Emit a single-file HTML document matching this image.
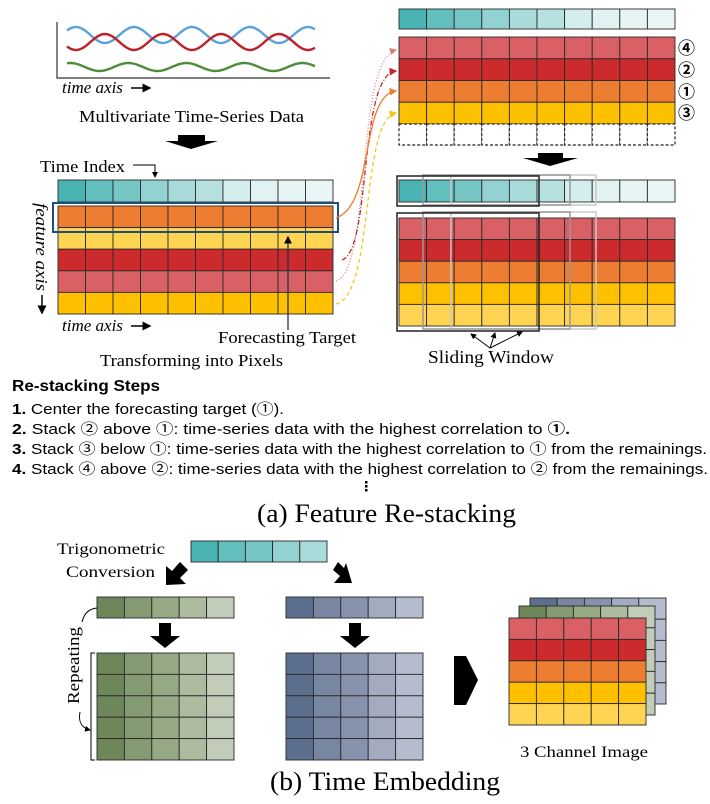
<!DOCTYPE html>
<html><head><meta charset="utf-8"><style>
html,body{margin:0;padding:0;background:#fff}
svg{display:block}
.serif{font-family:"Liberation Serif","Noto Serif CJK SC",serif}
.sans{font-family:"Liberation Sans","Noto Sans CJK KR",sans-serif}
</style></head><body>
<svg id="fig" width="710" height="804" viewBox="0 0 710 804" xmlns="http://www.w3.org/2000/svg">
<defs>
<marker id="ah" markerWidth="6" markerHeight="6" refX="5" refY="3" orient="auto"><path d="M0,0 L6,3 L0,6 z" fill="#000"/></marker>
<marker id="ahO" markerWidth="6" markerHeight="6" refX="5" refY="3" orient="auto"><path d="M0,0 L6,3 L0,6 z" fill="#ed7d31"/></marker>
<marker id="ahR" markerWidth="6" markerHeight="6" refX="5" refY="3" orient="auto"><path d="M0,0 L6,3 L0,6 z" fill="#c0282c"/></marker>
<marker id="ahP" markerWidth="6" markerHeight="6" refX="5" refY="3" orient="auto"><path d="M0,0 L6,3 L0,6 z" fill="#e07a7a"/></marker>
<marker id="ahY" markerWidth="6" markerHeight="6" refX="5" refY="3" orient="auto"><path d="M0,0 L6,3 L0,6 z" fill="#f5c518"/></marker>
</defs>

<!-- top time-series plot -->
<g>
<path d="M57,22 V78 H330" fill="none" stroke="#333" stroke-width="1.2"/>
<g id="waves"></g>
</g>
<text class="serif" x="62" y="93" font-size="17" font-style="italic">time axis</text>
<path d="M131,88 H150" stroke="#000" stroke-width="1.5" marker-end="url(#ah)"/>
<text class="serif" x="79" y="122" font-size="17" textLength="225" lengthAdjust="spacingAndGlyphs">Multivariate Time-Series Data</text>
<path d="M178,135 H205 V141 H218 L191,149 L165,141 H178 Z" fill="#000"/>

<text class="serif" x="40" y="172" font-size="17" textLength="85" lengthAdjust="spacingAndGlyphs">Time Index</text>
<path d="M133,165 H155 V177" fill="none" stroke="#000" stroke-width="1" marker-end="url(#ah)"/>

<g id="leftGrid"></g>
<rect x="53" y="203" width="285" height="29" fill="none" stroke="#1f4e79" stroke-width="2"/>
<text class="serif" font-size="17" font-style="italic" transform="translate(36,203) rotate(90)" textLength="88" lengthAdjust="spacingAndGlyphs">feature axis</text>
<path d="M42,295 V313" stroke="#000" stroke-width="1.5" marker-end="url(#ah)"/>
<text class="serif" x="62" y="331" font-size="17" font-style="italic">time axis</text>
<path d="M131,326 H150" stroke="#000" stroke-width="1.5" marker-end="url(#ah)"/>
<path d="M288,330 V237" stroke="#1f3450" stroke-width="1.3" marker-end="url(#ah)"/>
<text class="serif" x="218" y="343" font-size="17" textLength="138" lengthAdjust="spacingAndGlyphs">Forecasting Target</text>
<text class="serif" x="100" y="366" font-size="17" textLength="183" lengthAdjust="spacingAndGlyphs">Transforming into Pixels</text>

<!-- connectors -->
<g>
<path d="M336,281 C372,270 355,60 396,50" fill="none" stroke="#e07a7a" stroke-width="1.2" stroke-dasharray="1,2" marker-end="url(#ahP)"/>
<path d="M342,260 C372,250 358,75 396,71" fill="none" stroke="#c0282c" stroke-width="1.3" stroke-dasharray="5,2,1,2" marker-end="url(#ahR)"/>
<path d="M336,218 C375,205 360,95 396,91" fill="none" stroke="#ed7d31" stroke-width="1.3" marker-end="url(#ahO)"/>
<path d="M336,304 C375,295 360,120 396,113" fill="none" stroke="#f5c518" stroke-width="1.3" stroke-dasharray="4,3" marker-end="url(#ahY)"/>
</g>

<g id="rightTop"></g>
<g class="sans" font-size="17" font-weight="bold">
<text x="678" y="54">④</text>
<text x="678" y="76">②</text>
<text x="678" y="98">①</text>
<text x="678" y="119">③</text>
</g>
<path d="M538,153 H563 V158 H578 L550,166 L523,158 H538 Z" fill="#000"/>

<g id="rightBottom"></g>
<g fill="none">
<rect x="451" y="175" width="145" height="30" stroke="#c8c8c8" stroke-width="1.5"/>
<rect x="451" y="212" width="145" height="117" stroke="#c8c8c8" stroke-width="1.5"/>
<rect x="423" y="175" width="147" height="30" stroke="#999" stroke-width="1.5"/>
<rect x="423" y="212" width="147" height="117" stroke="#999" stroke-width="1.5"/>
<rect x="397" y="176" width="142" height="30" stroke="#222" stroke-width="1.5"/>
<rect x="397" y="213" width="142" height="118" stroke="#222" stroke-width="1.5"/>
</g>
<g stroke="#000" stroke-width="1">
<path d="M490,348 L471,334" marker-end="url(#ah)"/>
<path d="M490,348 L495,333" marker-end="url(#ah)"/>
<path d="M490,348 L522,332" marker-end="url(#ah)"/>
</g>
<text class="serif" x="428" y="363" font-size="18" textLength="126" lengthAdjust="spacingAndGlyphs">Sliding Window</text>

<!-- re-stacking steps -->
<g class="sans" font-size="14.5">
<text x="12" y="391" font-weight="bold" font-size="15.5" textLength="148" lengthAdjust="spacingAndGlyphs">Re-stacking Steps</text>
<text x="12" y="414" textLength="272" lengthAdjust="spacingAndGlyphs"><tspan font-weight="bold">1.</tspan> Center the forecasting target (①).</text>
<text x="12" y="434" textLength="558" lengthAdjust="spacingAndGlyphs"><tspan font-weight="bold">2.</tspan> Stack ② above ①: time-series data with the highest correlation to <tspan font-weight="bold">①.</tspan></text>
<text x="12" y="454" textLength="695" lengthAdjust="spacingAndGlyphs"><tspan font-weight="bold">3.</tspan> Stack ③ below ①: time-series data with the highest correlation to ① from the remainings.</text>
<text x="12" y="474" textLength="696" lengthAdjust="spacingAndGlyphs"><tspan font-weight="bold">4.</tspan> Stack ④ above ②: time-series data with the highest correlation to ② from the remainings.</text>
<g fill="#000"><rect x="365" y="481" width="2.5" height="2.5"/><rect x="365" y="485" width="2.5" height="2.5"/><rect x="365" y="489" width="2.5" height="2.5"/></g>
</g>
<text class="serif" x="257" y="522" font-size="26" textLength="259" lengthAdjust="spacingAndGlyphs">(a) Feature Re-stacking</text>

<!-- time embedding -->
<text class="serif" x="57" y="554" font-size="16" textLength="108" lengthAdjust="spacingAndGlyphs">Trigonometric</text>
<text class="serif" x="66" y="577" font-size="16" textLength="89" lengthAdjust="spacingAndGlyphs">Conversion</text>
<g id="embed"></g>
<path d="M180,562 L188,570 L180,578 L186,584 L166,585 L166,566 L172,571 Z" fill="#000"/>
<path d="M338,562 L344,568 L346,563 L352,583 L334,583 L340,576 L333,570 Z" fill="#000"/>
<path d="M159,623 H171 V636 H180 L165,648 L150,636 H159 Z" fill="#000"/>
<path d="M349,623 H361 V636 H370 L355,648 L340,636 H349 Z" fill="#000"/>
<path d="M97,608 C88,609 84,614 82,622" fill="none" stroke="#000" stroke-width="1"/>
<path d="M80,712 C78,722 82,728 90,730" fill="none" stroke="#000" stroke-width="1" marker-end="url(#ah)"/>
<path d="M95,653 H91 V760 H95" fill="none" stroke="#000" stroke-width="1"/>
<text class="serif" font-size="17" transform="translate(79,704) rotate(-90)" textLength="77" lengthAdjust="spacingAndGlyphs">Repeating</text>
<path d="M454,656 H466 L478,680 L466,705 H454 Z" fill="#000"/>
<text class="serif" x="520" y="757" font-size="16" textLength="128" lengthAdjust="spacingAndGlyphs">3 Channel Image</text>
<text class="serif" x="270" y="790" font-size="26" textLength="230" lengthAdjust="spacingAndGlyphs">(b) Time Embedding</text>
</svg>
<script>
// data arrays
const timeShades = ["#4ab3b3","#63bebe","#76c6c6","#93d2d2","#a9dbdb","#b7e0e0","#d4eded","#e1f2f2","#e6f4f4","#eaf6f6"];
const leftRows = ["#ed7d31","#ffd452","#cc2b2e","#d96064","#ffc000"];
const restackRows = ["#d96064","#cc2b2e","#ed7d31","#ffc000"];
const slideRows = ["#d96064","#cc2b2e","#ed7d31","#ffc000","#ffd452"];
const embedTeal = ["#4ab3b3","#63bebe","#76c6c6","#93d2d2","#a9dbdb"];
const greenShades = ["#6d865a","#849a72","#95a985","#adbb9f","#c2cdb9"];
const blueShades = ["#5d6f8f","#7886a2","#8793ad","#a2abc0","#b5bccd"];
const NS="http://www.w3.org/2000/svg";
function el(parent,tag,attrs){const e=document.createElementNS(NS,tag);for(const k in attrs)e.setAttribute(k,attrs[k]);parent.appendChild(e);return e;}
function cells(parent,x0,y0,w,h,rowColors,cols,colColorFn,name,dash){
  const cw=w/cols, rh=h/rowColors.length;
  rowColors.forEach((rc,r)=>{for(let c=0;c<cols;c++){
    const e=el(parent,'rect',{x:x0+c*cw,y:y0+r*rh,width:cw,height:rh,fill:colColorFn?colColorFn(r,c):rc,stroke:dash?'#222':'#2a2a2a','stroke-width':dash?1.2:0.9});
    if(dash)e.setAttribute('stroke-dasharray','3,2');
    
    
  }});
}
// waves
const wv=document.getElementById('waves');
const waveDefs=[["#5ba3d6",35,8,1],["#c0202a",42,8,-1],["#4e8c3a",67,4,1]];
waveDefs.forEach(([col,cy,amp,sg],i)=>{let d='';for(let x=67;x<=315;x+=2){const y=cy-sg*amp*Math.sin((x-67)/58*2*Math.PI+ (i==2?1.2:0.6));d+=(x==67?'M':'L')+x+','+y.toFixed(1);}
const p=el(wv,'path',{d:d,fill:'none',stroke:col,'stroke-width':2.4});

});
// left
const lg=document.getElementById('leftGrid');
cells(lg,58,180,275,22,["x"],10,(r,c)=>timeShades[c],'time-index-cell');
cells(lg,58,206,275,108,leftRows,10,null,'pixel-cell');
// right top
const rt=document.getElementById('rightTop');
cells(rt,399,9,276,20,["x"],10,(r,c)=>timeShades[c],'time-index-cell');
cells(rt,399,37,276,87,restackRows,10,null,'pixel-cell');
cells(rt,399,124,276,21,["#ffffff"],10,null,'empty-cell',true);
// right bottom
const rb=document.getElementById('rightBottom');
cells(rb,399,180,276,22,["x"],10,(r,c)=>timeShades[c],'time-index-cell');
cells(rb,399,218,276,108,slideRows,10,null,'pixel-cell');
// embedding
const em=document.getElementById('embed');
cells(em,191,541,136,21,["x"],5,(r,c)=>embedTeal[c],'teal-cell');
cells(em,97,597,137,21,["x"],5,(r,c)=>greenShades[c],'sin-cell');
cells(em,286,597,137,21,["x"],5,(r,c)=>blueShades[c],'cos-cell');
cells(em,97,653,137,107,[0,1,2,3,4],5,(r,c)=>greenShades[c],'sin-grid-cell');
cells(em,286,653,137,107,[0,1,2,3,4],5,(r,c)=>blueShades[c],'cos-grid-cell');
cells(em,530,598,136,106,[0,1,2,3,4],5,(r,c)=>blueShades[c],'channel-cos-cell');
cells(em,519,606,136,109,[0,1,2,3,4],5,(r,c)=>greenShades[c],'channel-sin-cell');
cells(em,509,618,137,107,slideRows,5,null,'channel-data-cell');
</script>
</body></html>
